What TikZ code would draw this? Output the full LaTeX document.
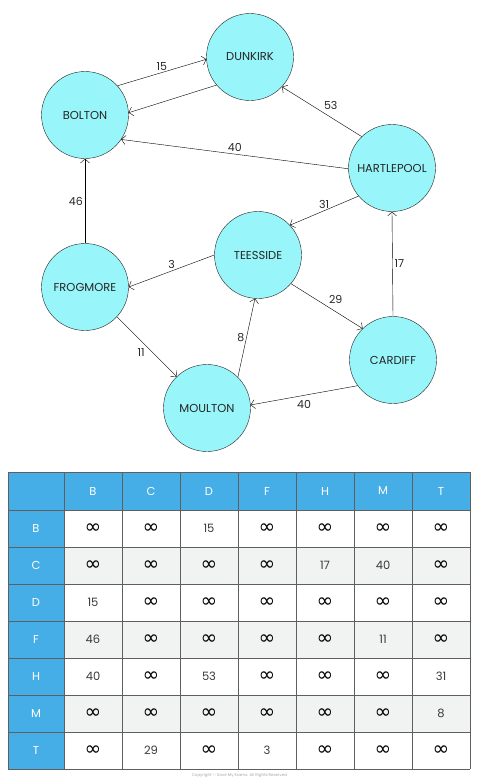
\documentclass[tikz,border=0pt]{standalone}
\usepackage{fontspec}
\setmainfont{Poppins}
\newfontfamily\symfont{DejaVu Sans}
\usetikzlibrary{arrows.meta}
\definecolor{towncyan}{HTML}{98F5F9}
\definecolor{headblue}{HTML}{46AEE6}
\definecolor{rowgray}{HTML}{F1F2F2}
\definecolor{gridgray}{HTML}{5F5F5F}
\definecolor{numgray}{HTML}{3A3A3A}
\newcommand{\infcell}{{\color{black}\symfont\fontsize{20}{20}\selectfont ∞}}
\tikzset{
  town/.style={circle, draw=black!85, fill=towncyan, minimum size=87pt, inner sep=0pt,
    text=black!85, font=\fontsize{11.5}{13}\selectfont},
  wt/.style={font=\fontsize{11}{13}\selectfont, text=black!85, inner sep=2pt},
  cell/.style={font=\fontsize{11.5}{13}\selectfont, text=numgray},
  headcell/.style={font=\fontsize{11.5}{13}\selectfont, text=white}
}
\begin{document}
\begin{tikzpicture}[>={Straight Barb[length=4pt,width=9pt]}, x=1pt, y=-1pt]
  \useasboundingbox (0,0) rectangle (479,782);
  % towns
  \node[town] (dun) at (250,57) {DUNKIRK};
  \node[town] (bol) at (85,115) {BOLTON};
  \node[town] (har) at (392,168) {HARTLEPOOL};
  \node[town] (tee) at (258,255) {TEESSIDE};
  \node[town] (fro) at (85,287) {FROGMORE};
  \node[town] (car) at (393,360) {CARDIFF};
  \node[town] (mou) at (207,408) {MOULTON};
  % roads
  \draw[->] (bol.42) -- (dun.183) node[wt, midway, above]{15};
  \draw[->] (dun.220) -- (bol.3);
  \draw[->] (har.134) -- (dun.317) node[wt, midway, above right]{53};
  \draw[->] (har.181) -- (bol.326) node[wt, midway, above]{40};
  \draw[->] (har.220) -- (tee.43) node[wt, midway, above]{31};
  \draw[->] (car.north) -- (har.south) node[wt, midway, right]{17};
  \draw[->] (fro.north) -- (bol.south) node[wt, midway, left]{46};
  \draw[->] (tee.west) -- (fro.east) node[wt, midway, above]{3};
  \draw[->] (tee.319) -- (car.134) node[wt, midway, above right]{29};
  \draw[->] (mou.45) -- (tee.266) node[wt, midway, left]{8};
  \draw[->] (fro.317) -- (mou.134) node[wt, midway, below left]{11};
  \draw[->] (car.216) -- (mou.4) node[wt, midway, below, yshift=-3pt]{40};
  % table
  \fill[headblue] (8,472) rectangle (470,510) (8,510) rectangle (64,769);
  \foreach \r/\lab/\shade/\vals in {
      1/B/white/{\infcell,\infcell,15,\infcell,\infcell,\infcell,\infcell},
      2/C/rowgray/{\infcell,\infcell,\infcell,\infcell,17,40,\infcell},
      3/D/white/{15,\infcell,\infcell,\infcell,\infcell,\infcell,\infcell},
      4/F/rowgray/{46,\infcell,\infcell,\infcell,\infcell,11,\infcell},
      5/H/white/{40,\infcell,53,\infcell,\infcell,\infcell,31},
      6/M/rowgray/{\infcell,\infcell,\infcell,\infcell,\infcell,\infcell,8},
      7/T/white/{\infcell,29,\infcell,3,\infcell,\infcell,\infcell}}{
    \fill[\shade] (64,473+37*\r) rectangle (470,510+37*\r);
    \node[headcell] (row\lab) at (36,491.5+37*\r) {\lab};
    \node[headcell] (col\lab) at (35+58*\r,491) {\lab};
    \foreach \v [count=\c] in \vals
      \node[cell] (cell-\lab-\c) at (35+58*\c,491.5+37*\r) {\v};
  }
  \foreach \x in {8,64,122,180,238,296,354,412,470}
    \draw[gridgray, line width=0.9pt] (\x,472) -- (\x,769);
  \foreach \y in {472,510,547,584,621,658,695,732,769}
    \draw[gridgray, line width=0.9pt] (8,\y) -- (470,\y);
  \node[font=\fontsize{4}{5}\selectfont, text=black!35] (copy) at (239.5,776) {Copyright © Save My Exams. All Rights Reserved};
\end{tikzpicture}
\end{document}
